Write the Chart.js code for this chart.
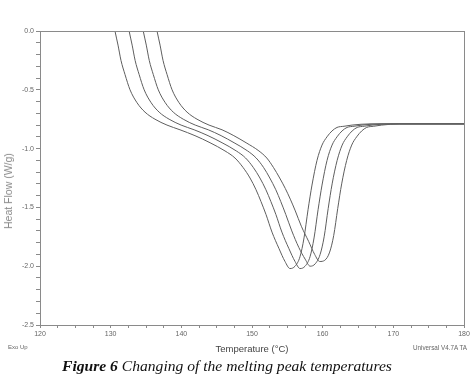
<!DOCTYPE html>
<html>
<head>
<meta charset="utf-8">
<script src="https://cdn.jsdelivr.net/npm/chart.js@4/dist/chart.umd.min.js"></script>
<style>
  html, body { margin: 0; padding: 0; background: #fff; }
  #wrap { position: relative; width: 474px; height: 377px; overflow: hidden; background: #fff; }
  #c { position: absolute; left: 0; top: 0; }
  .t { position: absolute; white-space: nowrap; font-family: "Liberation Sans", Arial, sans-serif; }
  #ytitle { left: 8px; top: 191px; transform: translate(-50%, -50%) rotate(-90deg); font-size: 10.5px; color: #8a8a8a; }
  #xtitle { left: 252px; top: 348px; transform: translate(-50%, -50%); font-size: 9.5px; color: #444; }
  #exo { left: 8px; top: 344px; font-size: 6px; color: #666; }
  #univ { left: 413px; top: 344px; font-size: 6.3px; color: #666; }
  #cap { left: 62px; top: 358px; font-family: "Liberation Serif", "Times New Roman", serif; font-style: italic; font-size: 15.6px; line-height: 1; color: #111; }
</style>
</head>
<body>
<div id="wrap">
  <canvas id="c" width="474" height="377"></canvas>
  <div class="t" id="ytitle">Heat Flow (W/g)</div>
  <div class="t" id="xtitle">Temperature (°C)</div>
  <div class="t" id="exo">Exo Up</div>
  <div class="t" id="univ">Universal V4.7A TA</div>
  <div class="t" id="cap"><b>Figure 6</b> Changing of the melting peak temperatures</div>
</div>
<script>
// Temperature (°C) and heat flow (W/g), four DSC runs
const temp1 = [130.33,130.61,131.04,131.46,132.03,132.74,133.73,134.86,136.27,137.97,139.81,141.93,144.06,146.18,147.59,148.73,149.72,150.57,151.27,151.98,152.83,153.82,154.67,155.38,156.09,156.79,157.36,157.93,158.49,159.20,159.91,160.61,161.32,162.03,163.02,164.15,166.70,180.00];
const flow1 = [0.09,0.00,-0.12,-0.25,-0.37,-0.50,-0.61,-0.69,-0.75,-0.80,-0.84,-0.89,-0.95,-1.02,-1.08,-1.16,-1.25,-1.35,-1.45,-1.56,-1.71,-1.85,-1.96,-2.02,-2.00,-1.92,-1.76,-1.52,-1.31,-1.10,-0.97,-0.90,-0.85,-0.82,-0.81,-0.80,-0.79,-0.79];

const temp2 = [132.33,132.61,133.04,133.46,134.03,134.74,135.73,136.86,138.27,139.97,141.81,143.78,145.76,147.78,149.09,150.18,151.12,151.97,152.67,153.38,154.23,155.22,156.09,156.80,157.51,158.21,158.78,159.35,159.91,160.62,161.33,162.03,162.74,163.45,164.44,165.57,168.12,180.00];
const flow2 = [0.09,0.00,-0.12,-0.25,-0.37,-0.50,-0.61,-0.69,-0.75,-0.80,-0.84,-0.89,-0.95,-1.02,-1.08,-1.16,-1.25,-1.35,-1.45,-1.56,-1.71,-1.85,-1.96,-2.02,-2.00,-1.92,-1.76,-1.52,-1.31,-1.10,-0.97,-0.90,-0.85,-0.82,-0.81,-0.80,-0.79,-0.79];

const temp3 = [134.33,134.61,135.04,135.46,136.03,136.74,137.73,138.86,140.27,141.97,143.81,145.63,147.46,149.38,150.59,151.63,152.52,153.37,154.07,154.78,155.63,156.62,157.52,158.23,158.94,159.64,160.21,160.78,161.34,162.05,162.76,163.46,164.17,164.88,165.87,167.00,169.50,180.00];
const flow3 = [0.09,0.00,-0.12,-0.25,-0.37,-0.50,-0.61,-0.69,-0.75,-0.80,-0.84,-0.89,-0.95,-1.02,-1.08,-1.16,-1.25,-1.35,-1.45,-1.56,-1.70,-1.84,-1.94,-2.00,-1.98,-1.90,-1.75,-1.51,-1.30,-1.10,-0.97,-0.90,-0.85,-0.82,-0.81,-0.80,-0.79,-0.79];

const temp4 = [136.28,136.56,136.99,137.41,137.98,138.69,139.68,140.81,142.22,143.92,145.76,147.43,149.16,150.98,152.09,153.03,153.92,154.72,155.42,156.13,156.98,158.02,158.87,159.58,160.29,160.99,161.56,162.13,162.69,163.40,164.11,164.81,165.52,166.23,167.22,168.35,170.90,180.00];
const flow4 = [0.09,0.00,-0.12,-0.25,-0.37,-0.50,-0.61,-0.69,-0.75,-0.80,-0.84,-0.89,-0.95,-1.02,-1.08,-1.16,-1.25,-1.34,-1.43,-1.53,-1.66,-1.79,-1.90,-1.96,-1.95,-1.88,-1.74,-1.51,-1.30,-1.10,-0.97,-0.90,-0.85,-0.82,-0.81,-0.80,-0.79,-0.79];

const xMajor = [120,130,140,150,160,170,180];
const yMajor = [0.0,-0.5,-1.0,-1.5,-2.0,-2.5];

function pts(t, f) { return t.map((v, i) => ({ x: v, y: f[i] })); }

const lineStyle = { borderColor: '#5e5e5e', borderWidth: 1, pointRadius: 0, fill: false, cubicInterpolationMode: 'monotone' };

const frame = {
  id: 'frame',
  afterDatasetsDraw(chart) {
    const a = chart.chartArea, ctx = chart.ctx;
    ctx.save();
    ctx.strokeStyle = '#8a8a8a';
    ctx.lineWidth = 1;
    ctx.strokeRect(Math.round(a.left) + 0.5, Math.round(a.top) + 0.5, Math.round(a.right - a.left), Math.round(a.bottom - a.top));
    ctx.restore();
  }
};

const near = (v, arr) => arr.some(m => Math.abs(m - v) < 1e-6);

new Chart(document.getElementById('c'), {
  type: 'line',
  data: {
    datasets: [
      Object.assign({ data: pts(temp1, flow1) }, lineStyle),
      Object.assign({ data: pts(temp2, flow2) }, lineStyle),
      Object.assign({ data: pts(temp3, flow3) }, lineStyle),
      Object.assign({ data: pts(temp4, flow4) }, lineStyle)
    ]
  },
  options: {
    responsive: false,
    animation: false,
    events: [],
    layout: { padding: { top: 31, right: 10, left: 0, bottom: 0 } },
    plugins: { legend: { display: false }, tooltip: { enabled: false } },
    scales: {
      x: {
        type: 'linear', min: 120, max: 180,
        afterFit: s => { s.height = 52; },
        border: { display: true, color: '#8a8a8a' },
        grid: { drawOnChartArea: false, tickLength: 3, color: '#8a8a8a' },
        ticks: {
          stepSize: 2.5, autoSkip: false, maxRotation: 0, padding: 2,
          color: '#666', font: { family: 'Liberation Sans', size: 7 },
          callback: v => near(v, xMajor) ? String(Math.round(v)) : ''
        }
      },
      y: {
        type: 'linear', min: -2.5, max: 0,
        afterFit: s => { s.width = 40; },
        border: { display: true, color: '#8a8a8a' },
        grid: { drawOnChartArea: false, tickLength: 4, color: '#8a8a8a' },
        ticks: {
          stepSize: 0.1, autoSkip: false, padding: 2,
          color: '#666', font: { family: 'Liberation Sans', size: 7 },
          callback: v => near(v, yMajor) ? v.toFixed(1) : ''
        }
      }
    }
  },
  plugins: [frame]
});
</script>
</body>
</html>
